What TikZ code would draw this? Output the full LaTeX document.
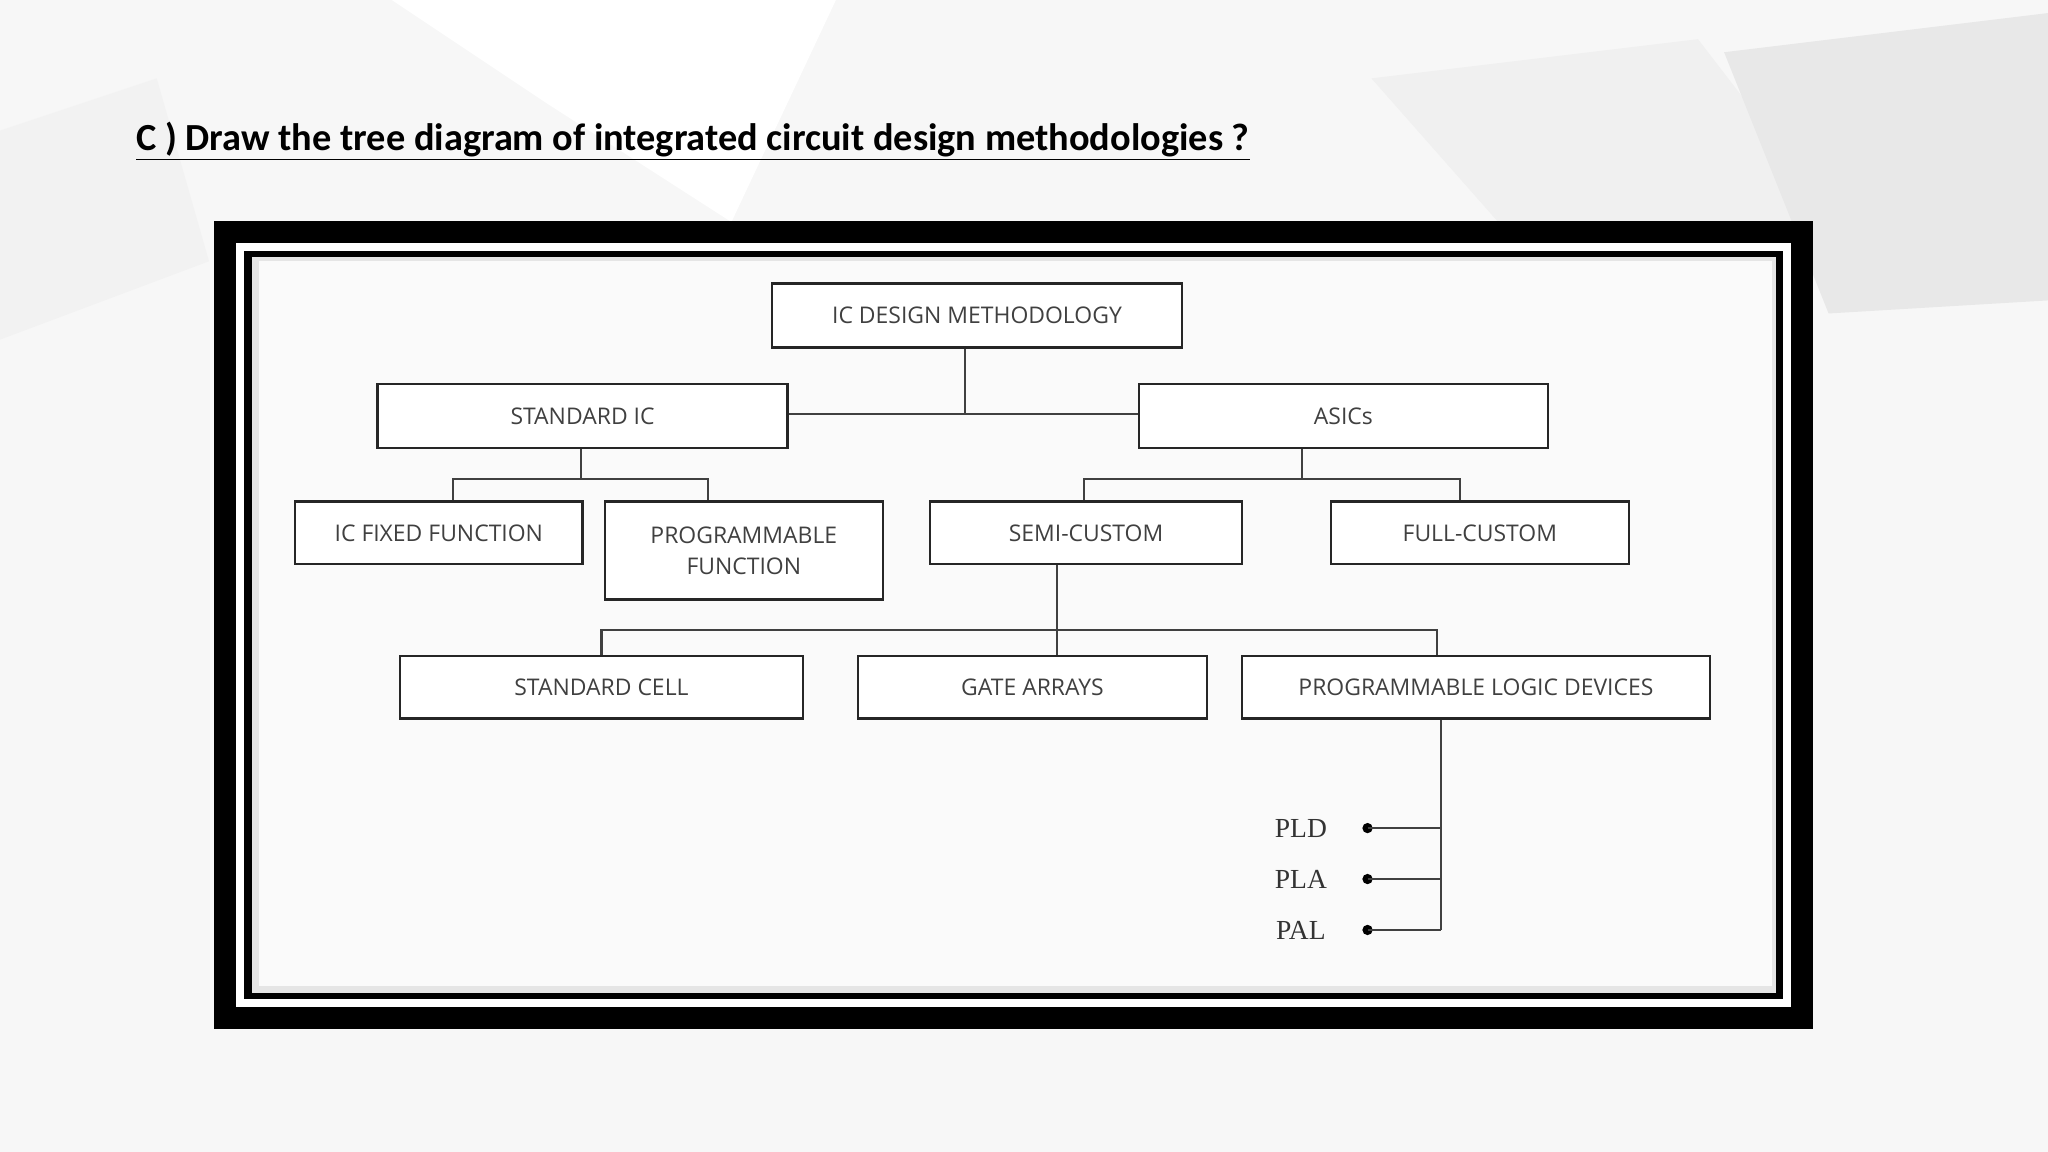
\documentclass[tikz,border=0pt]{standalone}
\usepackage{fontspec}
\setmainfont{Liberation Serif}
\newfontfamily\titlefont{Carlito}
\newfontfamily\boxfont{Open Sans}
\usetikzlibrary{positioning}

\tikzset{
  icbox/.style={draw=black!85, line width=1pt, fill=white, inner sep=0pt,
    text=black!75, font=\boxfont\fontsize{10}{13.5}\selectfont, align=center},
  link/.style={draw=black!75, line width=0.9pt},
  tip/.style={circle, fill=black, inner sep=0pt, minimum size=4.5pt}
}

\begin{document}
\begin{tikzpicture}[x=0.02cm, y=-0.02cm]
	    % page and frame
	    \fill [black!3] (0,0) rectangle (1568,882);
	    \fill [white] (300,0) -- (640,0) -- (560,170) -- (420,80) -- cycle;
	    \fill [black!6] (1050,60) -- (1300,30) -- (1400,160) -- (1200,230) -- cycle;
	    \fill [black!9] (1320,40) -- (1568,10) -- (1568,230) -- (1400,240) -- cycle;
	    \fill [black!5] (0,100) -- (120,60) -- (160,200) -- (0,260) -- cycle;
	    \fill [black] (164,169) rectangle (1388,788);
	    \fill [white] (181,186) rectangle (1371,771);
	    \fill [black] (187,192) rectangle (1365,765);
	    \fill [black!10] (193,197) rectangle (1360,760);
	    \fill [white!98!black] (198,200) rectangle (1357,755);
	    \node [anchor=base west, inner sep=0pt, font=\titlefont\bfseries\fontsize{16.7}{20}\selectfont] (title) at (104,115)
	        {\underline{C ) Draw the tree diagram of integrated circuit design methodologies ?}};
	    % boxes
	    \node [icbox, minimum width=6.28cm, minimum height=0.98cm] (icdm) at (748,241.5) {IC DESIGN METHODOLOGY};
	    \node [icbox, minimum width=6.28cm, minimum height=0.98cm] (stdic) at (446,318.5) {STANDARD IC};
	    \node [icbox, minimum width=6.26cm, minimum height=0.98cm] (asic) at (1028.5,318.5) {ASICs};
	    \node [icbox, minimum width=4.4cm, minimum height=0.96cm] (fixed) at (336,408) {IC FIXED FUNCTION};
	    \node [icbox, minimum width=4.26cm, minimum height=1.5cm] (progf) at (569.5,421.5) {PROGRAMMABLE\\FUNCTION};
	    \node [icbox, minimum width=4.78cm, minimum height=0.96cm] (semi) at (831.5,408) {SEMI-CUSTOM};
	    \node [icbox, minimum width=4.56cm, minimum height=0.96cm] (full) at (1133,408) {FULL-CUSTOM};
	    \node [icbox, minimum width=6.18cm, minimum height=0.96cm] (cell) at (460.5,526) {STANDARD CELL};
	    \node [icbox, minimum width=5.34cm, minimum height=0.96cm] (gate) at (790.5,526) {GATE ARRAYS};
	    \node [icbox, minimum width=7.16cm, minimum height=0.96cm] (pld) at (1130,526) {PROGRAMMABLE LOGIC DEVICES};
	    % joints
	    \coordinate (top) at (739,317);
	    \coordinate (jstd) at (445,367);
	    \coordinate (jasic) at (997,367);
	    \coordinate (jsemi) at (809,482);
	    \coordinate (jpld) at (1103,712);
	    \draw [link] (icdm.south -| top) -- (top);
	    \draw [link] (stdic.east |- top) -- (asic.west |- top);
	    \draw [link] (stdic.south -| jstd) -- (jstd);
	    \draw [link] ([xshift=0.22cm]fixed.north) |- (jstd) -| ([xshift=-0.55cm]progf.north);
	    \draw [link] (asic.south -| jasic) -- (jasic);
	    \draw [link] ([xshift=-0.03cm]semi.north) |- (jasic) -| ([xshift=-0.3cm]full.north);
	    \draw [link] (semi.south -| jsemi) -- (gate.north -| jsemi);
	    \draw [link] (cell.north) |- (jsemi) -| ([xshift=-0.6cm]pld.north);
	    \draw [link] (pld.south -| jpld) -- (jpld);
	    % outputs of the logic devices
	    \foreach \name/\yy in {PLD/634, PLA/673, PAL/712} {
	        \node [tip] (d\name) at (1047,\yy) {};
	        \node [font=\fontsize{12}{14}\selectfont, text=black!80] (l\name) at (996,\yy) {\name};
	        \draw [link] (d\name.center) -- (d\name.center -| jpld);
	    }
\end{tikzpicture}
\end{document}
